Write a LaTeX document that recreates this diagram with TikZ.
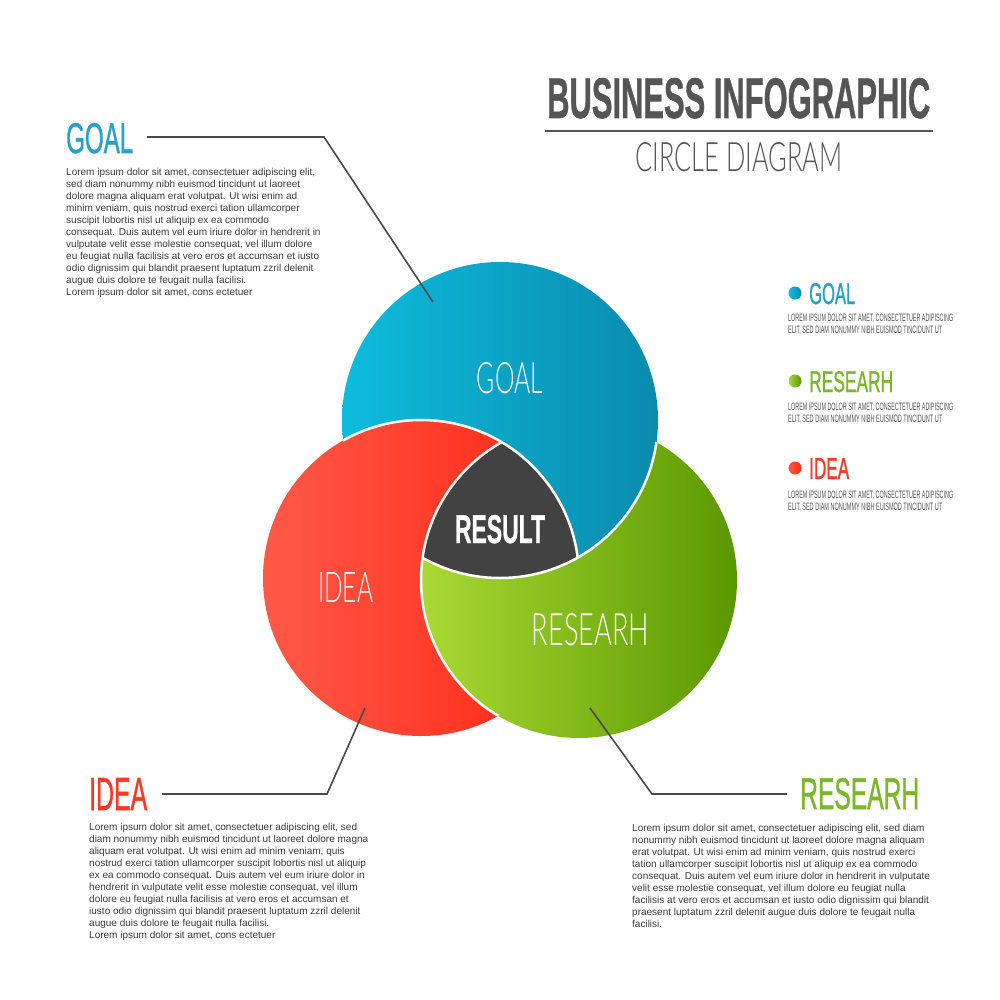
\documentclass[tikz,border=0pt]{standalone}
\usepackage{fontspec}
\usepackage{graphicx}
\setmainfont{Liberation Sans}
\newfontfamily\lightfont{Lato Light}
\newfontfamily\heavyfont[BoldFeatures={FakeBold=1}]{Liberation Sans}
\newfontfamily\medfont[FakeBold=1.2]{Liberation Sans}
\newcommand\fitbox[3]{\resizebox{#1pt}{#2pt}{#3}}
\definecolor{goalL}{HTML}{0DBCDC}
\definecolor{goalR}{HTML}{0A8BAE}
\definecolor{ideaL}{HTML}{FF5A48}
\definecolor{ideaR}{HTML}{FF2412}
\definecolor{greenL}{HTML}{AAD934}
\definecolor{greenR}{HTML}{5A9800}
\definecolor{resultc}{HTML}{424242}
\definecolor{goalT}{HTML}{2A9FCB}
\definecolor{ideaT}{HTML}{F23A26}
\definecolor{greenT}{HTML}{7CB62A}
\definecolor{bodyT}{HTML}{3C3C3C}
\definecolor{titleT}{HTML}{555555}
\definecolor{lineC}{HTML}{4A4A4A}
\tikzset{
  goalsh/.style={left color=goalL, right color=goalR},
  ideash/.style={left color=ideaL, right color=ideaR},
  greensh/.style={left color=greenL, right color=greenR},
  sepline/.style={draw=white, line width=2.5pt},
  bodytext/.style={anchor=base west, align=left, inner sep=0pt, text=bodyT,
    font=\fontsize{10}{12}\selectfont},
  headtext/.style={anchor=base west, inner sep=0pt},
  labeltext/.style={anchor=base, inner sep=0pt, text=white},
  smalltext/.style={anchor=base west, inner sep=0pt, text=titleT},
  leader/.style={draw=lineC, line width=1.6pt},
}
\begin{document}
\begin{tikzpicture}[x=1pt,y=-1pt]
\useasboundingbox (0,0) rectangle (1000,1000);
\fill[white] (0,0) rectangle (1000,1000);

% ---- circle fills ----
\shade[goalsh] (500,420) circle (158);
\shade[greensh] (579,580) circle (158);
\begin{scope}
  \clip (579,580) circle (159.2);
  \shade[goalsh] (500,420) circle (158);
\end{scope}
\shade[ideash] (421,578) circle (158);
\begin{scope}
  \clip (421,578) circle (159.2);
  \shade[greensh] (579,580) circle (158);
\end{scope}
% ---- result region ----
\begin{scope}
  \clip (500,420) circle (158);
  \clip (579,580) circle (158);
  \clip (421,578) circle (158);
  \fill[resultc] (300,300) rectangle (700,700);
\end{scope}
% ---- white separating arcs ----
\begin{scope}
  \clip (500,420) circle (158);
  \draw[sepline] (421,578) circle (158);
\end{scope}
\begin{scope}
  \clip (421,578) circle (158);
  \draw[sepline] (579,580) circle (158);
\end{scope}
\begin{scope}
  \clip (579,580) circle (158);
  \draw[sepline] (500,420) circle (158);
\end{scope}

% ---- circle labels ----
\node[labeltext] (lgoal) at (510,393) {\fitbox{66}{31}{\lightfont GOAL}};
\node[labeltext] (lidea) at (345.5,602) {\fitbox{55}{30}{\lightfont IDEA}};
\node[labeltext] (lres) at (590.5,645) {\fitbox{117}{32}{\lightfont RESEARH}};
\node[labeltext] (lresult) at (500,543) {\fitbox{90}{28}{\heavyfont\bfseries RESULT}};

% ---- title ----
\node[headtext, text=titleT] (title) at (547,118) {\fitbox{383}{40}{\heavyfont\bfseries BUSINESS INFOGRAPHIC}};
\coordinate (rule1) at (545,131);
\coordinate (rule2) at (933,131);
\draw[draw=titleT, line width=1.5pt] (rule1) -- (rule2);
\node[headtext, text=titleT] (subtitle) at (635,172) {\fitbox{207}{29}{\lightfont CIRCLE DIAGRAM}};

% ---- headings ----
\node[headtext, text=goalT] (hgoal) at (66,153) {\fitbox{67}{30}{\medfont GOAL}};
\node[headtext, text=ideaT] (hidea) at (89,810) {\fitbox{58}{32}{\medfont IDEA}};
\node[headtext, text=greenT] (hres) at (800,809) {\fitbox{119}{31}{\medfont RESEARH}};

% ---- body texts (anchored at the baseline of their last line) ----
\node[bodytext] (tgoal) at (66,295) {Lorem ipsum dolor sit amet, consectetuer adipiscing elit,\\
sed diam nonummy nibh euismod tincidunt ut laoreet\\
dolore magna aliquam erat volutpat. Ut wisi enim ad\\
minim veniam, quis nostrud exerci tation ullamcorper\\
suscipit lobortis nisl ut aliquip ex ea commodo\\
consequat. Duis autem vel eum iriure dolor in hendrerit in\\
vulputate velit esse molestie consequat, vel illum dolore\\
eu feugiat nulla facilisis at vero eros et accumsan et iusto\\
odio dignissim qui blandit praesent luptatum zzril delenit\\
augue duis dolore te feugait nulla facilisi.\\
Lorem ipsum dolor sit amet, cons ectetuer};

\node[bodytext] (tidea) at (89,938) {Lorem ipsum dolor sit amet, consectetuer adipiscing elit, sed\\
diam nonummy nibh euismod tincidunt ut laoreet dolore magna\\
aliquam erat volutpat. Ut wisi enim ad minim veniam, quis\\
nostrud exerci tation ullamcorper suscipit lobortis nisl ut aliquip\\
ex ea commodo consequat. Duis autem vel eum iriure dolor in\\
hendrerit in vulputate velit esse molestie consequat, vel illum\\
dolore eu feugiat nulla facilisis at vero eros et accumsan et\\
iusto odio dignissim qui blandit praesent luptatum zzril delenit\\
augue duis dolore te feugait nulla facilisi.\\
Lorem ipsum dolor sit amet, cons ectetuer};

\node[bodytext] (tres) at (632,927) {Lorem ipsum dolor sit amet, consectetuer adipiscing elit, sed diam\\
nonummy nibh euismod tincidunt ut laoreet dolore magna aliquam\\
erat volutpat. Ut wisi enim ad minim veniam, quis nostrud exerci\\
tation ullamcorper suscipit lobortis nisl ut aliquip ex ea commodo\\
consequat. Duis autem vel eum iriure dolor in hendrerit in vulputate\\
velit esse molestie consequat, vel illum dolore eu feugiat nulla\\
facilisis at vero eros et accumsan et iusto odio dignissim qui blandit\\
praesent luptatum zzril delenit augue duis dolore te feugait nulla\\
facilisi.};

% ---- leader lines ----
\coordinate (g1) at (147,137);
\coordinate (g2) at (324,137);
\coordinate (g3) at (433,302);
\draw[leader] (g1) -- (g2) -- (g3);
\coordinate (i1) at (162,794);
\coordinate (i2) at (327,794);
\coordinate (i3) at (365,708);
\draw[leader] (i1) -- (i2) -- (i3);
\coordinate (r1) at (590,708);
\coordinate (r2) at (652,794);
\coordinate (r3) at (787,794);
\draw[leader] (r1) -- (r2) -- (r3);

% ---- legend ----
\shade[goalsh] (795,293) circle (6.5);
\node[headtext, text=goalT] (lg) at (809,304) {\fitbox{46}{21}{\medfont GOAL}};
\node[smalltext] (lg1) at (788,321) {\fitbox{165}{7.5}{LOREM IPSUM DOLOR SIT AMET, CONSECTETUER ADIPISCING}};
\node[smalltext] (lg2) at (788,333) {\fitbox{154}{7.5}{ELIT, SED DIAM NONUMMY NIBH EUISMOD TINCIDUNT UT}};

\shade[greensh] (795,381) circle (6.5);
\node[headtext, text=greenT] (lr) at (809,392) {\fitbox{84}{21}{\medfont RESEARH}};
\node[smalltext] (lr1) at (788,410) {\fitbox{165}{7.5}{LOREM IPSUM DOLOR SIT AMET, CONSECTETUER ADIPISCING}};
\node[smalltext] (lr2) at (788,422) {\fitbox{154}{7.5}{ELIT, SED DIAM NONUMMY NIBH EUISMOD TINCIDUNT UT}};

\shade[ideash] (795,468) circle (6.5);
\node[headtext, text=ideaT] (li) at (809,479) {\fitbox{40}{21}{\medfont IDEA}};
\node[smalltext] (li1) at (788,498) {\fitbox{165}{7.5}{LOREM IPSUM DOLOR SIT AMET, CONSECTETUER ADIPISCING}};
\node[smalltext] (li2) at (788,510) {\fitbox{154}{7.5}{ELIT, SED DIAM NONUMMY NIBH EUISMOD TINCIDUNT UT}};
\end{tikzpicture}
\end{document}
